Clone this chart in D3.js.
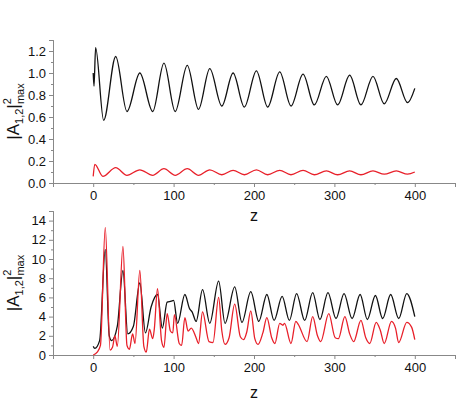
<!DOCTYPE html>
<html><head><meta charset="utf-8">
<script src="https://cdn.jsdelivr.net/npm/d3@7"></script>
<style>body{margin:0;background:#fff}text{font-family:"Liberation Sans",Arial,sans-serif;fill:#111}</style>
</head><body><svg id="c" width="474" height="409"></svg>
<script>
// top panel: extrema [z, value]
const topBlack = [[0,1.0],[1,0.88],[3,1.23],[13,0.57],[28,1.15],[42,0.65],[58,1.0],[74,0.65],[88,1.09],[102,0.65],[117,1.07],[131,0.67],[145,1.04],[160,0.7],[174,1.0],[188,0.69],[203,1.02],[217,0.69],[232,1.01],[246,0.7],[261,0.99],[275,0.71],[290,0.97],[304,0.71],[319,0.98],[333,0.71],[348,0.97],[362,0.72],[377,0.95],[391,0.73],[400,0.86]]
const topRed = [[0,0.06],[2,0.17],[12,0.06],[28,0.14],[42,0.07],[58,0.12],[74,0.07],[88,0.13],[102,0.07],[117,0.13],[131,0.07],[145,0.12],[160,0.075],[174,0.115],[188,0.075],[203,0.12],[217,0.075],[232,0.115],[246,0.075],[261,0.115],[275,0.075],[290,0.11],[304,0.075],[319,0.11],[333,0.075],[348,0.11],[362,0.08],[377,0.11],[391,0.08],[400,0.1]]
// bottom panel
const botBlack = [[0,0.9],[2,0.7],[8,1.5],[15,11],[20,2],[23,1.5],[30,3],[37,8.8],[43,2.2],[50,3],[58,7.5],[65,2.3],[72,5],[80,6.3],[86,2.8],[92,5.5],[97,5.6],[100,5.7],[105,3.3],[114,6.3],[120,4.8],[123,4.5],[128,3.5],[136,6.8],[145,3.3],[156,7.7],[164,3.3],[176,7.1],[185,3.4],[196,6.6],[206,3.5],[216,6.3],[225,3.6],[235,6.1],[244,3.6],[253,6.4],[263,3.6],[273,6.5],[282,3.7],[292,6.5],[302,3.8],[312,6.4],[322,3.8],[332,6.3],[341,3.7],[351,6.2],[360,3.8],[370,6.3],[380,3.8],[390,6.4],[400,4]]
const botRed = [[0,0],[5,0.3],[9,1],[15,13.3],[21,0.5],[24,0.8],[27,2],[30,0.9],[37,11.3],[42,1],[45,0.6],[49,2.2],[52,1.2],[58,8.8],[63,0.9],[66,0.3],[70,2.7],[74,1.7],[76,2.7],[80,6.9],[85,1.5],[88,0.8],[92,4.3],[96,2.5],[99,2.3],[101,4.2],[107,1.2],[110,1],[114,3.9],[118,2.5],[122,2.8],[128,1.8],[131,1.2],[136,4.5],[144,1.4],[149,1.3],[156,6],[160,2.5],[164,1.1],[169,1.8],[176,5.3],[183,1.9],[187,1.6],[191,2.4],[196,4.6],[201,1.7],[205,1.1],[211,2.3],[216,3.9],[222,1.8],[226,1.2],[232,3.3],[236,3.1],[238,3.3],[246,1.2],[252,3.5],[255,3.2],[266,1.4],[273,4],[279,2],[283,1.4],[293,4.3],[301,1.8],[305,1.7],[313,4],[319,2.2],[324,1.4],[333,3.6],[339,1.8],[344,1.2],[352,3.4],[357,2.6],[362,1.2],[371,3.5],[376,2.8],[380,1.3],[390,3.4],[396,2.9],[400,1.6]]
const xTicks = [0,100,200,300,400]

const svg = d3.select('#c')
const x = d3.scaleLinear().domain([-50,450]).range([53,455])

function panel(yDomain, yRange, yTicks, yMinor, fmt, series, curve, zY) {
	const y = d3.scaleLinear().domain(yDomain).range(yRange)
	const g = svg.append('g')
	// x axis
	g.append('g').attr('transform', `translate(0,${yRange[0]})`)
		.call(d3.axisBottom(x).tickValues(xTicks).tickSize(4).tickPadding(4))
		.call(a => a.append('g').call(d3.axisBottom(x).tickValues([-50,50,150,250,350,450]).tickSize(2).tickFormat('')))
	g.append('g').attr('transform', 'translate(53,0)')
		.call(d3.axisLeft(y).tickValues(yTicks).tickFormat(fmt).tickSize(4).tickPadding(3))
		.call(a => a.append('g').call(d3.axisLeft(y).tickValues(yMinor).tickSize(2).tickFormat('')))
	g.selectAll('.domain').attr('stroke', '#888')
	g.selectAll('.tick line').attr('stroke', '#888')
	g.selectAll('.tick text').style('font-size', '13px').attr('fill', '#111')
	const line = d3.line().x(d => x(d[0])).y(d => y(d[1])).curve(curve)
	series.forEach(s => g.append('path').attr('d', line(s.data)).attr('fill', 'none')
		.attr('stroke', s.color).attr('stroke-width', 1.3))
	g.append('text').attr('x', 254).attr('y', zY).attr('text-anchor', 'middle')
		.style('font-size', '16px').text('z')
	const lab = g.append('text').attr('transform', `translate(19,${(yRange[0] + yRange[1]) / 2}) rotate(-90)`)
		.attr('text-anchor', 'middle').style('font-size', '17px')
	lab.append('tspan').text('|A')
	lab.append('tspan').attr('dy', 4).style('font-size', '11px').text('1,2')
	lab.append('tspan').attr('dy', -4).text('|')
	lab.append('tspan').attr('dy', -8).style('font-size', '11px').text('2')
	lab.append('tspan').attr('dy', 13).attr('dx', -6).style('font-size', '11px').text('max')
}

panel([0,1.3], [183,40], d3.range(0,1.21,0.2), d3.range(0.1,1.31,0.2), d3.format('.1f'),
	[{data: topBlack, color: '#111'}, {data: topRed, color: '#e8202a'}], d3.curveMonotoneX, 221)
panel([0,15], [355,211], d3.range(0,15,2), d3.range(1,16,2), d3.format('d'),
	[{data: botBlack, color: '#111'}, {data: botRed, color: '#e8202a'}], d3.curveMonotoneX, 398)
</script></body></html>
